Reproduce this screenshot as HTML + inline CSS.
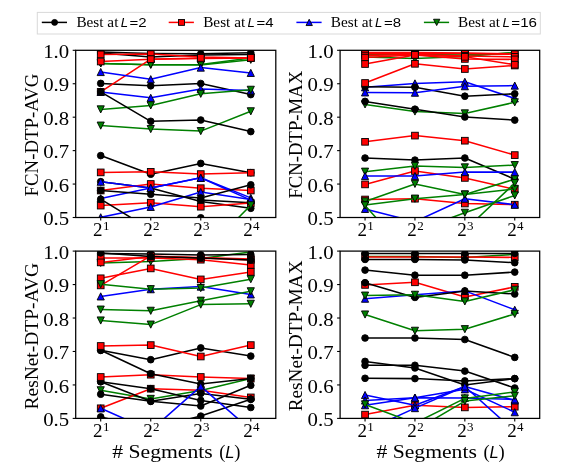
<!DOCTYPE html>
<html><head><meta charset="utf-8"><style>
html,body{margin:0;padding:0;background:#fff;width:575px;height:472px;overflow:hidden}
svg{display:block;will-change:transform}
</style></head><body>
<svg width="575" height="472" viewBox="0 0 575 472">
<defs><clipPath id="cTL"><rect x="75.7" y="50.3" width="200.10" height="167.20"/></clipPath><clipPath id="cTR"><rect x="340.1" y="50.3" width="199.60" height="167.20"/></clipPath><clipPath id="cBL"><rect x="75.7" y="251.1" width="200.10" height="167.30"/></clipPath><clipPath id="cBR"><rect x="340.1" y="251.1" width="199.60" height="167.30"/></clipPath></defs>
<rect x="0" y="0" width="575" height="472" fill="#fff"/>
<g clip-path="url(#cTL)">
<polyline points="100.71,51.90 150.74,53.40 200.76,53.80 250.79,52.80" fill="none" stroke="#000000" stroke-width="1.55" stroke-linejoin="round" stroke-linecap="butt"/>
<circle cx="100.71" cy="51.90" r="3.35" fill="#000000" stroke="#000" stroke-width="0.9"/>
<circle cx="150.74" cy="53.40" r="3.35" fill="#000000" stroke="#000" stroke-width="0.9"/>
<circle cx="200.76" cy="53.80" r="3.35" fill="#000000" stroke="#000" stroke-width="0.9"/>
<circle cx="250.79" cy="52.80" r="3.35" fill="#000000" stroke="#000" stroke-width="0.9"/>
<polyline points="100.71,52.90 150.74,56.90 200.76,55.00 250.79,54.40" fill="none" stroke="#000000" stroke-width="1.55" stroke-linejoin="round" stroke-linecap="butt"/>
<circle cx="100.71" cy="52.90" r="3.35" fill="#000000" stroke="#000" stroke-width="0.9"/>
<circle cx="150.74" cy="56.90" r="3.35" fill="#000000" stroke="#000" stroke-width="0.9"/>
<circle cx="200.76" cy="55.00" r="3.35" fill="#000000" stroke="#000" stroke-width="0.9"/>
<circle cx="250.79" cy="54.40" r="3.35" fill="#000000" stroke="#000" stroke-width="0.9"/>
<polyline points="100.71,155.60 150.74,174.20 200.76,163.40 250.79,172.70" fill="none" stroke="#000000" stroke-width="1.55" stroke-linejoin="round" stroke-linecap="butt"/>
<circle cx="100.71" cy="155.60" r="3.35" fill="#000000" stroke="#000" stroke-width="0.9"/>
<circle cx="150.74" cy="174.20" r="3.35" fill="#000000" stroke="#000" stroke-width="0.9"/>
<circle cx="200.76" cy="163.40" r="3.35" fill="#000000" stroke="#000" stroke-width="0.9"/>
<circle cx="250.79" cy="172.70" r="3.35" fill="#000000" stroke="#000" stroke-width="0.9"/>
<polyline points="100.71,181.70 150.74,187.90 200.76,201.60 250.79,208.30" fill="none" stroke="#000000" stroke-width="1.55" stroke-linejoin="round" stroke-linecap="butt"/>
<circle cx="100.71" cy="181.70" r="3.35" fill="#000000" stroke="#000" stroke-width="0.9"/>
<circle cx="150.74" cy="187.90" r="3.35" fill="#000000" stroke="#000" stroke-width="0.9"/>
<circle cx="200.76" cy="201.60" r="3.35" fill="#000000" stroke="#000" stroke-width="0.9"/>
<circle cx="250.79" cy="208.30" r="3.35" fill="#000000" stroke="#000" stroke-width="0.9"/>
<polyline points="100.71,83.40 150.74,85.80 200.76,83.50 250.79,94.60" fill="none" stroke="#000000" stroke-width="1.55" stroke-linejoin="round" stroke-linecap="butt"/>
<circle cx="100.71" cy="83.40" r="3.35" fill="#000000" stroke="#000" stroke-width="0.9"/>
<circle cx="150.74" cy="85.80" r="3.35" fill="#000000" stroke="#000" stroke-width="0.9"/>
<circle cx="200.76" cy="83.50" r="3.35" fill="#000000" stroke="#000" stroke-width="0.9"/>
<circle cx="250.79" cy="94.60" r="3.35" fill="#000000" stroke="#000" stroke-width="0.9"/>
<polyline points="200.76,199.90 250.79,202.80" fill="none" stroke="#000000" stroke-width="1.55" stroke-linejoin="round" stroke-linecap="butt"/>
<circle cx="200.76" cy="199.90" r="3.35" fill="#000000" stroke="#000" stroke-width="0.9"/>
<circle cx="250.79" cy="202.80" r="3.35" fill="#000000" stroke="#000" stroke-width="0.9"/>
<polyline points="100.71,63.40 150.74,64.70 200.76,64.90 250.79,59.80" fill="none" stroke="#008000" stroke-width="1.55" stroke-linejoin="round" stroke-linecap="butt"/>
<polygon points="100.71,66.98 97.13,59.82 104.30,59.82" fill="#008000" stroke="#000" stroke-width="0.9" stroke-linejoin="miter"/>
<polygon points="150.74,68.28 147.15,61.12 154.32,61.12" fill="#008000" stroke="#000" stroke-width="0.9" stroke-linejoin="miter"/>
<polygon points="200.76,68.48 197.18,61.32 204.35,61.32" fill="#008000" stroke="#000" stroke-width="0.9" stroke-linejoin="miter"/>
<polygon points="250.79,63.38 247.20,56.22 254.37,56.22" fill="#008000" stroke="#000" stroke-width="0.9" stroke-linejoin="miter"/>
<polyline points="100.71,63.40 150.74,64.70 200.76,64.40 250.79,57.90" fill="none" stroke="#008000" stroke-width="1.55" stroke-linejoin="round" stroke-linecap="butt"/>
<polygon points="100.71,66.98 97.13,59.82 104.30,59.82" fill="#008000" stroke="#000" stroke-width="0.9" stroke-linejoin="miter"/>
<polygon points="150.74,68.28 147.15,61.12 154.32,61.12" fill="#008000" stroke="#000" stroke-width="0.9" stroke-linejoin="miter"/>
<polygon points="200.76,67.98 197.18,60.82 204.35,60.82" fill="#008000" stroke="#000" stroke-width="0.9" stroke-linejoin="miter"/>
<polygon points="250.79,61.48 247.20,54.32 254.37,54.32" fill="#008000" stroke="#000" stroke-width="0.9" stroke-linejoin="miter"/>
<polyline points="100.71,125.60 150.74,129.10 200.76,131.10 250.79,111.30" fill="none" stroke="#008000" stroke-width="1.55" stroke-linejoin="round" stroke-linecap="butt"/>
<polygon points="100.71,129.18 97.13,122.02 104.30,122.02" fill="#008000" stroke="#000" stroke-width="0.9" stroke-linejoin="miter"/>
<polygon points="150.74,132.68 147.15,125.52 154.32,125.52" fill="#008000" stroke="#000" stroke-width="0.9" stroke-linejoin="miter"/>
<polygon points="200.76,134.68 197.18,127.52 204.35,127.52" fill="#008000" stroke="#000" stroke-width="0.9" stroke-linejoin="miter"/>
<polygon points="250.79,114.88 247.20,107.72 254.37,107.72" fill="#008000" stroke="#000" stroke-width="0.9" stroke-linejoin="miter"/>
<polyline points="100.71,54.40 150.74,54.10 200.76,56.90 250.79,57.90" fill="none" stroke="#ff0000" stroke-width="1.55" stroke-linejoin="round" stroke-linecap="butt"/>
<rect x="97.36" y="51.05" width="6.70" height="6.70" fill="#ff0000" stroke="#000" stroke-width="0.9"/>
<rect x="147.39" y="50.75" width="6.70" height="6.70" fill="#ff0000" stroke="#000" stroke-width="0.9"/>
<rect x="197.41" y="53.55" width="6.70" height="6.70" fill="#ff0000" stroke="#000" stroke-width="0.9"/>
<rect x="247.44" y="54.55" width="6.70" height="6.70" fill="#ff0000" stroke="#000" stroke-width="0.9"/>
<polyline points="100.71,61.50 150.74,59.20 200.76,58.50 250.79,57.90" fill="none" stroke="#ff0000" stroke-width="1.55" stroke-linejoin="round" stroke-linecap="butt"/>
<rect x="97.36" y="58.15" width="6.70" height="6.70" fill="#ff0000" stroke="#000" stroke-width="0.9"/>
<rect x="147.39" y="55.85" width="6.70" height="6.70" fill="#ff0000" stroke="#000" stroke-width="0.9"/>
<rect x="197.41" y="55.15" width="6.70" height="6.70" fill="#ff0000" stroke="#000" stroke-width="0.9"/>
<rect x="247.44" y="54.55" width="6.70" height="6.70" fill="#ff0000" stroke="#000" stroke-width="0.9"/>
<polyline points="100.71,91.90 150.74,59.20 200.76,57.90 250.79,57.90" fill="none" stroke="#ff0000" stroke-width="1.55" stroke-linejoin="round" stroke-linecap="butt"/>
<rect x="97.36" y="88.55" width="6.70" height="6.70" fill="#ff0000" stroke="#000" stroke-width="0.9"/>
<rect x="147.39" y="55.85" width="6.70" height="6.70" fill="#ff0000" stroke="#000" stroke-width="0.9"/>
<rect x="197.41" y="54.55" width="6.70" height="6.70" fill="#ff0000" stroke="#000" stroke-width="0.9"/>
<rect x="247.44" y="54.55" width="6.70" height="6.70" fill="#ff0000" stroke="#000" stroke-width="0.9"/>
<polyline points="100.71,172.40 150.74,171.80 200.76,174.10 250.79,172.70" fill="none" stroke="#ff0000" stroke-width="1.55" stroke-linejoin="round" stroke-linecap="butt"/>
<rect x="97.36" y="169.05" width="6.70" height="6.70" fill="#ff0000" stroke="#000" stroke-width="0.9"/>
<rect x="147.39" y="168.45" width="6.70" height="6.70" fill="#ff0000" stroke="#000" stroke-width="0.9"/>
<rect x="197.41" y="170.75" width="6.70" height="6.70" fill="#ff0000" stroke="#000" stroke-width="0.9"/>
<rect x="247.44" y="169.35" width="6.70" height="6.70" fill="#ff0000" stroke="#000" stroke-width="0.9"/>
<polyline points="100.71,190.50 150.74,184.00 200.76,188.20 250.79,190.50" fill="none" stroke="#ff0000" stroke-width="1.55" stroke-linejoin="round" stroke-linecap="butt"/>
<rect x="97.36" y="187.15" width="6.70" height="6.70" fill="#ff0000" stroke="#000" stroke-width="0.9"/>
<rect x="147.39" y="180.65" width="6.70" height="6.70" fill="#ff0000" stroke="#000" stroke-width="0.9"/>
<rect x="197.41" y="184.85" width="6.70" height="6.70" fill="#ff0000" stroke="#000" stroke-width="0.9"/>
<rect x="247.44" y="187.15" width="6.70" height="6.70" fill="#ff0000" stroke="#000" stroke-width="0.9"/>
<polyline points="100.71,205.60 150.74,202.70 200.76,206.70 250.79,203.10" fill="none" stroke="#ff0000" stroke-width="1.55" stroke-linejoin="round" stroke-linecap="butt"/>
<rect x="97.36" y="202.25" width="6.70" height="6.70" fill="#ff0000" stroke="#000" stroke-width="0.9"/>
<rect x="147.39" y="199.35" width="6.70" height="6.70" fill="#ff0000" stroke="#000" stroke-width="0.9"/>
<rect x="197.41" y="203.35" width="6.70" height="6.70" fill="#ff0000" stroke="#000" stroke-width="0.9"/>
<rect x="247.44" y="199.75" width="6.70" height="6.70" fill="#ff0000" stroke="#000" stroke-width="0.9"/>
<polyline points="100.71,72.00 150.74,79.20 200.76,67.60 250.79,72.90" fill="none" stroke="#0000ff" stroke-width="1.55" stroke-linejoin="round" stroke-linecap="butt"/>
<polygon points="100.71,68.42 97.13,75.58 104.30,75.58" fill="#0000ff" stroke="#000" stroke-width="0.9" stroke-linejoin="miter"/>
<polygon points="150.74,75.62 147.15,82.78 154.32,82.78" fill="#0000ff" stroke="#000" stroke-width="0.9" stroke-linejoin="miter"/>
<polygon points="200.76,64.02 197.18,71.18 204.35,71.18" fill="#0000ff" stroke="#000" stroke-width="0.9" stroke-linejoin="miter"/>
<polygon points="250.79,69.32 247.20,76.48 254.37,76.48" fill="#0000ff" stroke="#000" stroke-width="0.9" stroke-linejoin="miter"/>
<polyline points="100.71,91.90 150.74,97.80 200.76,89.00 250.79,90.40" fill="none" stroke="#0000ff" stroke-width="1.55" stroke-linejoin="round" stroke-linecap="butt"/>
<polygon points="100.71,88.32 97.13,95.48 104.30,95.48" fill="#0000ff" stroke="#000" stroke-width="0.9" stroke-linejoin="miter"/>
<polygon points="150.74,94.22 147.15,101.38 154.32,101.38" fill="#0000ff" stroke="#000" stroke-width="0.9" stroke-linejoin="miter"/>
<polygon points="200.76,85.42 197.18,92.58 204.35,92.58" fill="#0000ff" stroke="#000" stroke-width="0.9" stroke-linejoin="miter"/>
<polygon points="250.79,86.82 247.20,93.98 254.37,93.98" fill="#0000ff" stroke="#000" stroke-width="0.9" stroke-linejoin="miter"/>
<polyline points="100.71,181.70 150.74,187.90 200.76,177.80 250.79,197.90" fill="none" stroke="#0000ff" stroke-width="1.55" stroke-linejoin="round" stroke-linecap="butt"/>
<polygon points="100.71,178.12 97.13,185.28 104.30,185.28" fill="#0000ff" stroke="#000" stroke-width="0.9" stroke-linejoin="miter"/>
<polygon points="150.74,184.32 147.15,191.48 154.32,191.48" fill="#0000ff" stroke="#000" stroke-width="0.9" stroke-linejoin="miter"/>
<polygon points="200.76,174.22 197.18,181.38 204.35,181.38" fill="#0000ff" stroke="#000" stroke-width="0.9" stroke-linejoin="miter"/>
<polygon points="250.79,194.32 247.20,201.48 254.37,201.48" fill="#0000ff" stroke="#000" stroke-width="0.9" stroke-linejoin="miter"/>
<polyline points="100.71,198.40 150.74,187.90 200.76,177.80 250.79,200.10" fill="none" stroke="#0000ff" stroke-width="1.55" stroke-linejoin="round" stroke-linecap="butt"/>
<polygon points="100.71,194.82 97.13,201.98 104.30,201.98" fill="#0000ff" stroke="#000" stroke-width="0.9" stroke-linejoin="miter"/>
<polygon points="150.74,184.32 147.15,191.48 154.32,191.48" fill="#0000ff" stroke="#000" stroke-width="0.9" stroke-linejoin="miter"/>
<polygon points="200.76,174.22 197.18,181.38 204.35,181.38" fill="#0000ff" stroke="#000" stroke-width="0.9" stroke-linejoin="miter"/>
<polygon points="250.79,196.52 247.20,203.68 254.37,203.68" fill="#0000ff" stroke="#000" stroke-width="0.9" stroke-linejoin="miter"/>
<polyline points="100.71,217.30 150.74,206.90 200.76,192.00 250.79,199.40" fill="none" stroke="#0000ff" stroke-width="1.55" stroke-linejoin="round" stroke-linecap="butt"/>
<polygon points="100.71,213.72 97.13,220.88 104.30,220.88" fill="#0000ff" stroke="#000" stroke-width="0.9" stroke-linejoin="miter"/>
<polygon points="150.74,203.32 147.15,210.48 154.32,210.48" fill="#0000ff" stroke="#000" stroke-width="0.9" stroke-linejoin="miter"/>
<polygon points="200.76,188.42 197.18,195.58 204.35,195.58" fill="#0000ff" stroke="#000" stroke-width="0.9" stroke-linejoin="miter"/>
<polygon points="250.79,195.82 247.20,202.98 254.37,202.98" fill="#0000ff" stroke="#000" stroke-width="0.9" stroke-linejoin="miter"/>
<polyline points="100.71,109.40 150.74,105.40 200.76,93.80 250.79,89.80" fill="none" stroke="#008000" stroke-width="1.55" stroke-linejoin="round" stroke-linecap="butt"/>
<polygon points="100.71,112.98 97.13,105.82 104.30,105.82" fill="#008000" stroke="#000" stroke-width="0.9" stroke-linejoin="miter"/>
<polygon points="150.74,108.98 147.15,101.82 154.32,101.82" fill="#008000" stroke="#000" stroke-width="0.9" stroke-linejoin="miter"/>
<polygon points="200.76,97.38 197.18,90.22 204.35,90.22" fill="#008000" stroke="#000" stroke-width="0.9" stroke-linejoin="miter"/>
<polygon points="250.79,93.38 247.20,86.22 254.37,86.22" fill="#008000" stroke="#000" stroke-width="0.9" stroke-linejoin="miter"/>
<polyline points="100.71,91.90 150.74,121.30 200.76,120.00 250.79,131.60" fill="none" stroke="#000000" stroke-width="1.55" stroke-linejoin="round" stroke-linecap="butt"/>
<circle cx="100.71" cy="91.90" r="3.35" fill="#000000" stroke="#000" stroke-width="0.9"/>
<circle cx="150.74" cy="121.30" r="3.35" fill="#000000" stroke="#000" stroke-width="0.9"/>
<circle cx="200.76" cy="120.00" r="3.35" fill="#000000" stroke="#000" stroke-width="0.9"/>
<circle cx="250.79" cy="131.60" r="3.35" fill="#000000" stroke="#000" stroke-width="0.9"/>
<polyline points="100.71,190.50 150.74,194.20 200.76,197.90 250.79,184.80" fill="none" stroke="#000000" stroke-width="1.55" stroke-linejoin="round" stroke-linecap="butt"/>
<circle cx="100.71" cy="190.50" r="3.35" fill="#000000" stroke="#000" stroke-width="0.9"/>
<circle cx="150.74" cy="194.20" r="3.35" fill="#000000" stroke="#000" stroke-width="0.9"/>
<circle cx="200.76" cy="197.90" r="3.35" fill="#000000" stroke="#000" stroke-width="0.9"/>
<circle cx="250.79" cy="184.80" r="3.35" fill="#000000" stroke="#000" stroke-width="0.9"/>
<polyline points="100.71,199.20 150.74,229.70 200.76,217.80 250.79,234.40" fill="none" stroke="#000000" stroke-width="1.55" stroke-linejoin="round" stroke-linecap="butt"/>
<circle cx="100.71" cy="199.20" r="3.35" fill="#000000" stroke="#000" stroke-width="0.9"/>
<circle cx="150.74" cy="229.70" r="3.35" fill="#000000" stroke="#000" stroke-width="0.9"/>
<circle cx="200.76" cy="217.80" r="3.35" fill="#000000" stroke="#000" stroke-width="0.9"/>
<circle cx="250.79" cy="234.40" r="3.35" fill="#000000" stroke="#000" stroke-width="0.9"/>
<polyline points="150.74,300.40 200.76,255.40 250.79,205.30" fill="none" stroke="#008000" stroke-width="1.55" stroke-linejoin="round" stroke-linecap="butt"/>
<polygon points="150.74,303.98 147.15,296.82 154.32,296.82" fill="#008000" stroke="#000" stroke-width="0.9" stroke-linejoin="miter"/>
<polygon points="200.76,258.98 197.18,251.82 204.35,251.82" fill="#008000" stroke="#000" stroke-width="0.9" stroke-linejoin="miter"/>
<polygon points="250.79,208.88 247.20,201.72 254.37,201.72" fill="#008000" stroke="#000" stroke-width="0.9" stroke-linejoin="miter"/>
</g>
<rect x="75.7" y="50.3" width="200.10" height="167.20" fill="none" stroke="#000" stroke-width="1.25"/>
<line x1="72.70" y1="217.50" x2="75.7" y2="217.50" stroke="#000" stroke-width="1.1"/>
<text x="69.20" y="225.10" text-anchor="end" style="font-family:'Liberation Serif',serif;font-size:19px" textLength="26.0" lengthAdjust="spacingAndGlyphs">0.5</text>
<line x1="72.70" y1="184.06" x2="75.7" y2="184.06" stroke="#000" stroke-width="1.1"/>
<text x="69.20" y="191.66" text-anchor="end" style="font-family:'Liberation Serif',serif;font-size:19px" textLength="26.0" lengthAdjust="spacingAndGlyphs">0.6</text>
<line x1="72.70" y1="150.62" x2="75.7" y2="150.62" stroke="#000" stroke-width="1.1"/>
<text x="69.20" y="158.22" text-anchor="end" style="font-family:'Liberation Serif',serif;font-size:19px" textLength="26.0" lengthAdjust="spacingAndGlyphs">0.7</text>
<line x1="72.70" y1="117.18" x2="75.7" y2="117.18" stroke="#000" stroke-width="1.1"/>
<text x="69.20" y="124.78" text-anchor="end" style="font-family:'Liberation Serif',serif;font-size:19px" textLength="26.0" lengthAdjust="spacingAndGlyphs">0.8</text>
<line x1="72.70" y1="83.74" x2="75.7" y2="83.74" stroke="#000" stroke-width="1.1"/>
<text x="69.20" y="91.34" text-anchor="end" style="font-family:'Liberation Serif',serif;font-size:19px" textLength="26.0" lengthAdjust="spacingAndGlyphs">0.9</text>
<line x1="72.70" y1="50.30" x2="75.7" y2="50.30" stroke="#000" stroke-width="1.1"/>
<text x="69.20" y="57.90" text-anchor="end" style="font-family:'Liberation Serif',serif;font-size:19px" textLength="26.0" lengthAdjust="spacingAndGlyphs">1.0</text>
<line x1="100.71" y1="217.5" x2="100.71" y2="220.50" stroke="#000" stroke-width="1.1"/>
<text x="93.11" y="236.00" style="font-family:'Liberation Serif',serif;font-size:19px">2</text>
<text x="102.91" y="230.40" style="font-family:'Liberation Serif',serif;font-size:13px">1</text>
<line x1="150.74" y1="217.5" x2="150.74" y2="220.50" stroke="#000" stroke-width="1.1"/>
<text x="143.14" y="236.00" style="font-family:'Liberation Serif',serif;font-size:19px">2</text>
<text x="152.94" y="230.40" style="font-family:'Liberation Serif',serif;font-size:13px">2</text>
<line x1="200.76" y1="217.5" x2="200.76" y2="220.50" stroke="#000" stroke-width="1.1"/>
<text x="193.16" y="236.00" style="font-family:'Liberation Serif',serif;font-size:19px">2</text>
<text x="202.96" y="230.40" style="font-family:'Liberation Serif',serif;font-size:13px">3</text>
<line x1="250.79" y1="217.5" x2="250.79" y2="220.50" stroke="#000" stroke-width="1.1"/>
<text x="243.19" y="236.00" style="font-family:'Liberation Serif',serif;font-size:19px">2</text>
<text x="252.99" y="230.40" style="font-family:'Liberation Serif',serif;font-size:13px">4</text>
<text transform="translate(37.70,135.00) rotate(-90)" text-anchor="middle" style="font-family:'Liberation Serif',serif;font-size:18.5px" textLength="122.9" lengthAdjust="spacingAndGlyphs">FCN-DTP-AVG</text>
<g clip-path="url(#cTR)">
<polyline points="365.05,56.90 414.95,58.60 464.85,56.40 514.75,52.40" fill="none" stroke="#008000" stroke-width="1.55" stroke-linejoin="round" stroke-linecap="butt"/>
<polygon points="365.05,60.48 361.47,53.32 368.63,53.32" fill="#008000" stroke="#000" stroke-width="0.9" stroke-linejoin="miter"/>
<polygon points="414.95,62.18 411.37,55.02 418.53,55.02" fill="#008000" stroke="#000" stroke-width="0.9" stroke-linejoin="miter"/>
<polygon points="464.85,59.98 461.27,52.82 468.43,52.82" fill="#008000" stroke="#000" stroke-width="0.9" stroke-linejoin="miter"/>
<polygon points="514.75,55.98 511.17,48.82 518.33,48.82" fill="#008000" stroke="#000" stroke-width="0.9" stroke-linejoin="miter"/>
<polyline points="365.05,54.60 414.95,54.40 464.85,54.90 514.75,53.20" fill="none" stroke="#008000" stroke-width="1.55" stroke-linejoin="round" stroke-linecap="butt"/>
<polygon points="365.05,58.18 361.47,51.02 368.63,51.02" fill="#008000" stroke="#000" stroke-width="0.9" stroke-linejoin="miter"/>
<polygon points="414.95,57.98 411.37,50.82 418.53,50.82" fill="#008000" stroke="#000" stroke-width="0.9" stroke-linejoin="miter"/>
<polygon points="464.85,58.48 461.27,51.32 468.43,51.32" fill="#008000" stroke="#000" stroke-width="0.9" stroke-linejoin="miter"/>
<polygon points="514.75,56.78 511.17,49.62 518.33,49.62" fill="#008000" stroke="#000" stroke-width="0.9" stroke-linejoin="miter"/>
<polyline points="365.05,87.30 414.95,83.40 464.85,81.80 514.75,98.40" fill="none" stroke="#0000ff" stroke-width="1.55" stroke-linejoin="round" stroke-linecap="butt"/>
<polygon points="365.05,83.72 361.47,90.88 368.63,90.88" fill="#0000ff" stroke="#000" stroke-width="0.9" stroke-linejoin="miter"/>
<polygon points="414.95,79.82 411.37,86.98 418.53,86.98" fill="#0000ff" stroke="#000" stroke-width="0.9" stroke-linejoin="miter"/>
<polygon points="464.85,78.22 461.27,85.38 468.43,85.38" fill="#0000ff" stroke="#000" stroke-width="0.9" stroke-linejoin="miter"/>
<polygon points="514.75,94.82 511.17,101.98 518.33,101.98" fill="#0000ff" stroke="#000" stroke-width="0.9" stroke-linejoin="miter"/>
<polyline points="365.05,104.40 414.95,111.50 464.85,113.40 514.75,102.30" fill="none" stroke="#008000" stroke-width="1.55" stroke-linejoin="round" stroke-linecap="butt"/>
<polygon points="365.05,107.98 361.47,100.82 368.63,100.82" fill="#008000" stroke="#000" stroke-width="0.9" stroke-linejoin="miter"/>
<polygon points="414.95,115.08 411.37,107.92 418.53,107.92" fill="#008000" stroke="#000" stroke-width="0.9" stroke-linejoin="miter"/>
<polygon points="464.85,116.98 461.27,109.82 468.43,109.82" fill="#008000" stroke="#000" stroke-width="0.9" stroke-linejoin="miter"/>
<polygon points="514.75,105.88 511.17,98.72 518.33,98.72" fill="#008000" stroke="#000" stroke-width="0.9" stroke-linejoin="miter"/>
<polyline points="365.05,86.80 414.95,87.30 464.85,96.20 514.75,93.80" fill="none" stroke="#000000" stroke-width="1.55" stroke-linejoin="round" stroke-linecap="butt"/>
<circle cx="365.05" cy="86.80" r="3.35" fill="#000000" stroke="#000" stroke-width="0.9"/>
<circle cx="414.95" cy="87.30" r="3.35" fill="#000000" stroke="#000" stroke-width="0.9"/>
<circle cx="464.85" cy="96.20" r="3.35" fill="#000000" stroke="#000" stroke-width="0.9"/>
<circle cx="514.75" cy="93.80" r="3.35" fill="#000000" stroke="#000" stroke-width="0.9"/>
<polyline points="365.05,83.00 414.95,63.80 464.85,69.00 514.75,65.50" fill="none" stroke="#ff0000" stroke-width="1.55" stroke-linejoin="round" stroke-linecap="butt"/>
<rect x="361.70" y="79.65" width="6.70" height="6.70" fill="#ff0000" stroke="#000" stroke-width="0.9"/>
<rect x="411.60" y="60.45" width="6.70" height="6.70" fill="#ff0000" stroke="#000" stroke-width="0.9"/>
<rect x="461.50" y="65.65" width="6.70" height="6.70" fill="#ff0000" stroke="#000" stroke-width="0.9"/>
<rect x="511.40" y="62.15" width="6.70" height="6.70" fill="#ff0000" stroke="#000" stroke-width="0.9"/>
<polyline points="365.05,101.40 414.95,109.20 464.85,117.00 514.75,120.10" fill="none" stroke="#000000" stroke-width="1.55" stroke-linejoin="round" stroke-linecap="butt"/>
<circle cx="365.05" cy="101.40" r="3.35" fill="#000000" stroke="#000" stroke-width="0.9"/>
<circle cx="414.95" cy="109.20" r="3.35" fill="#000000" stroke="#000" stroke-width="0.9"/>
<circle cx="464.85" cy="117.00" r="3.35" fill="#000000" stroke="#000" stroke-width="0.9"/>
<circle cx="514.75" cy="120.10" r="3.35" fill="#000000" stroke="#000" stroke-width="0.9"/>
<polyline points="365.05,158.00 414.95,160.10 464.85,158.00 514.75,179.20" fill="none" stroke="#000000" stroke-width="1.55" stroke-linejoin="round" stroke-linecap="butt"/>
<circle cx="365.05" cy="158.00" r="3.35" fill="#000000" stroke="#000" stroke-width="0.9"/>
<circle cx="414.95" cy="160.10" r="3.35" fill="#000000" stroke="#000" stroke-width="0.9"/>
<circle cx="464.85" cy="158.00" r="3.35" fill="#000000" stroke="#000" stroke-width="0.9"/>
<circle cx="514.75" cy="179.20" r="3.35" fill="#000000" stroke="#000" stroke-width="0.9"/>
<polyline points="365.05,52.60 414.95,52.40 464.85,52.90 514.75,53.90" fill="none" stroke="#ff0000" stroke-width="1.55" stroke-linejoin="round" stroke-linecap="butt"/>
<rect x="361.70" y="49.25" width="6.70" height="6.70" fill="#ff0000" stroke="#000" stroke-width="0.9"/>
<rect x="411.60" y="49.05" width="6.70" height="6.70" fill="#ff0000" stroke="#000" stroke-width="0.9"/>
<rect x="461.50" y="49.55" width="6.70" height="6.70" fill="#ff0000" stroke="#000" stroke-width="0.9"/>
<rect x="511.40" y="50.55" width="6.70" height="6.70" fill="#ff0000" stroke="#000" stroke-width="0.9"/>
<polyline points="365.05,53.80 414.95,53.40 464.85,53.40 514.75,54.20" fill="none" stroke="#ff0000" stroke-width="1.55" stroke-linejoin="round" stroke-linecap="butt"/>
<rect x="361.70" y="50.45" width="6.70" height="6.70" fill="#ff0000" stroke="#000" stroke-width="0.9"/>
<rect x="411.60" y="50.05" width="6.70" height="6.70" fill="#ff0000" stroke="#000" stroke-width="0.9"/>
<rect x="461.50" y="50.05" width="6.70" height="6.70" fill="#ff0000" stroke="#000" stroke-width="0.9"/>
<rect x="511.40" y="50.85" width="6.70" height="6.70" fill="#ff0000" stroke="#000" stroke-width="0.9"/>
<polyline points="365.05,55.60 414.95,54.40 464.85,55.90 514.75,56.90" fill="none" stroke="#ff0000" stroke-width="1.55" stroke-linejoin="round" stroke-linecap="butt"/>
<rect x="361.70" y="52.25" width="6.70" height="6.70" fill="#ff0000" stroke="#000" stroke-width="0.9"/>
<rect x="411.60" y="51.05" width="6.70" height="6.70" fill="#ff0000" stroke="#000" stroke-width="0.9"/>
<rect x="461.50" y="52.55" width="6.70" height="6.70" fill="#ff0000" stroke="#000" stroke-width="0.9"/>
<rect x="511.40" y="53.55" width="6.70" height="6.70" fill="#ff0000" stroke="#000" stroke-width="0.9"/>
<polyline points="365.05,57.60 414.95,55.00 464.85,58.90 514.75,59.40" fill="none" stroke="#ff0000" stroke-width="1.55" stroke-linejoin="round" stroke-linecap="butt"/>
<rect x="361.70" y="54.25" width="6.70" height="6.70" fill="#ff0000" stroke="#000" stroke-width="0.9"/>
<rect x="411.60" y="51.65" width="6.70" height="6.70" fill="#ff0000" stroke="#000" stroke-width="0.9"/>
<rect x="461.50" y="55.55" width="6.70" height="6.70" fill="#ff0000" stroke="#000" stroke-width="0.9"/>
<rect x="511.40" y="56.05" width="6.70" height="6.70" fill="#ff0000" stroke="#000" stroke-width="0.9"/>
<polyline points="365.05,64.00 414.95,54.90 464.85,56.80 514.75,64.70" fill="none" stroke="#ff0000" stroke-width="1.55" stroke-linejoin="round" stroke-linecap="butt"/>
<rect x="361.70" y="60.65" width="6.70" height="6.70" fill="#ff0000" stroke="#000" stroke-width="0.9"/>
<rect x="411.60" y="51.55" width="6.70" height="6.70" fill="#ff0000" stroke="#000" stroke-width="0.9"/>
<rect x="461.50" y="53.45" width="6.70" height="6.70" fill="#ff0000" stroke="#000" stroke-width="0.9"/>
<rect x="511.40" y="61.35" width="6.70" height="6.70" fill="#ff0000" stroke="#000" stroke-width="0.9"/>
<polyline points="365.05,141.80 414.95,135.60 464.85,140.70 514.75,155.10" fill="none" stroke="#ff0000" stroke-width="1.55" stroke-linejoin="round" stroke-linecap="butt"/>
<rect x="361.70" y="138.45" width="6.70" height="6.70" fill="#ff0000" stroke="#000" stroke-width="0.9"/>
<rect x="411.60" y="132.25" width="6.70" height="6.70" fill="#ff0000" stroke="#000" stroke-width="0.9"/>
<rect x="461.50" y="137.35" width="6.70" height="6.70" fill="#ff0000" stroke="#000" stroke-width="0.9"/>
<rect x="511.40" y="151.75" width="6.70" height="6.70" fill="#ff0000" stroke="#000" stroke-width="0.9"/>
<polyline points="365.05,184.40 414.95,171.00 464.85,177.90 514.75,189.40" fill="none" stroke="#ff0000" stroke-width="1.55" stroke-linejoin="round" stroke-linecap="butt"/>
<rect x="361.70" y="181.05" width="6.70" height="6.70" fill="#ff0000" stroke="#000" stroke-width="0.9"/>
<rect x="411.60" y="167.65" width="6.70" height="6.70" fill="#ff0000" stroke="#000" stroke-width="0.9"/>
<rect x="461.50" y="174.55" width="6.70" height="6.70" fill="#ff0000" stroke="#000" stroke-width="0.9"/>
<rect x="511.40" y="186.05" width="6.70" height="6.70" fill="#ff0000" stroke="#000" stroke-width="0.9"/>
<polyline points="365.05,199.50 414.95,198.70 464.85,203.50 514.75,204.70" fill="none" stroke="#ff0000" stroke-width="1.55" stroke-linejoin="round" stroke-linecap="butt"/>
<rect x="361.70" y="196.15" width="6.70" height="6.70" fill="#ff0000" stroke="#000" stroke-width="0.9"/>
<rect x="411.60" y="195.35" width="6.70" height="6.70" fill="#ff0000" stroke="#000" stroke-width="0.9"/>
<rect x="461.50" y="200.15" width="6.70" height="6.70" fill="#ff0000" stroke="#000" stroke-width="0.9"/>
<rect x="511.40" y="201.35" width="6.70" height="6.70" fill="#ff0000" stroke="#000" stroke-width="0.9"/>
<polyline points="365.05,208.90 414.95,221.70 464.85,198.70 514.75,204.70" fill="none" stroke="#0000ff" stroke-width="1.55" stroke-linejoin="round" stroke-linecap="butt"/>
<polygon points="365.05,205.32 361.47,212.48 368.63,212.48" fill="#0000ff" stroke="#000" stroke-width="0.9" stroke-linejoin="miter"/>
<polygon points="414.95,218.12 411.37,225.28 418.53,225.28" fill="#0000ff" stroke="#000" stroke-width="0.9" stroke-linejoin="miter"/>
<polygon points="464.85,195.12 461.27,202.28 468.43,202.28" fill="#0000ff" stroke="#000" stroke-width="0.9" stroke-linejoin="miter"/>
<polygon points="514.75,201.12 511.17,208.28 518.33,208.28" fill="#0000ff" stroke="#000" stroke-width="0.9" stroke-linejoin="miter"/>
<polyline points="365.05,171.70 414.95,165.90 464.85,167.40 514.75,165.10" fill="none" stroke="#008000" stroke-width="1.55" stroke-linejoin="round" stroke-linecap="butt"/>
<polygon points="365.05,175.28 361.47,168.12 368.63,168.12" fill="#008000" stroke="#000" stroke-width="0.9" stroke-linejoin="miter"/>
<polygon points="414.95,169.48 411.37,162.32 418.53,162.32" fill="#008000" stroke="#000" stroke-width="0.9" stroke-linejoin="miter"/>
<polygon points="464.85,170.98 461.27,163.82 468.43,163.82" fill="#008000" stroke="#000" stroke-width="0.9" stroke-linejoin="miter"/>
<polygon points="514.75,168.68 511.17,161.52 518.33,161.52" fill="#008000" stroke="#000" stroke-width="0.9" stroke-linejoin="miter"/>
<polyline points="365.05,201.40 414.95,183.90 464.85,194.50 514.75,188.90" fill="none" stroke="#008000" stroke-width="1.55" stroke-linejoin="round" stroke-linecap="butt"/>
<polygon points="365.05,204.98 361.47,197.82 368.63,197.82" fill="#008000" stroke="#000" stroke-width="0.9" stroke-linejoin="miter"/>
<polygon points="414.95,187.48 411.37,180.32 418.53,180.32" fill="#008000" stroke="#000" stroke-width="0.9" stroke-linejoin="miter"/>
<polygon points="464.85,198.08 461.27,190.92 468.43,190.92" fill="#008000" stroke="#000" stroke-width="0.9" stroke-linejoin="miter"/>
<polygon points="514.75,192.48 511.17,185.32 518.33,185.32" fill="#008000" stroke="#000" stroke-width="0.9" stroke-linejoin="miter"/>
<polyline points="365.05,205.00 414.95,198.70 464.85,194.50 514.75,179.20" fill="none" stroke="#008000" stroke-width="1.55" stroke-linejoin="round" stroke-linecap="butt"/>
<polygon points="365.05,208.58 361.47,201.42 368.63,201.42" fill="#008000" stroke="#000" stroke-width="0.9" stroke-linejoin="miter"/>
<polygon points="414.95,202.28 411.37,195.12 418.53,195.12" fill="#008000" stroke="#000" stroke-width="0.9" stroke-linejoin="miter"/>
<polygon points="464.85,198.08 461.27,190.92 468.43,190.92" fill="#008000" stroke="#000" stroke-width="0.9" stroke-linejoin="miter"/>
<polygon points="514.75,182.78 511.17,175.62 518.33,175.62" fill="#008000" stroke="#000" stroke-width="0.9" stroke-linejoin="miter"/>
<polyline points="365.05,205.40 414.95,261.30 464.85,230.30 514.75,183.10" fill="none" stroke="#008000" stroke-width="1.55" stroke-linejoin="round" stroke-linecap="butt"/>
<polygon points="365.05,208.98 361.47,201.82 368.63,201.82" fill="#008000" stroke="#000" stroke-width="0.9" stroke-linejoin="miter"/>
<polygon points="414.95,264.88 411.37,257.72 418.53,257.72" fill="#008000" stroke="#000" stroke-width="0.9" stroke-linejoin="miter"/>
<polygon points="464.85,233.88 461.27,226.72 468.43,226.72" fill="#008000" stroke="#000" stroke-width="0.9" stroke-linejoin="miter"/>
<polygon points="514.75,186.68 511.17,179.52 518.33,179.52" fill="#008000" stroke="#000" stroke-width="0.9" stroke-linejoin="miter"/>
<polyline points="365.05,240.40 414.95,231.00 464.85,212.80 514.75,195.40" fill="none" stroke="#008000" stroke-width="1.55" stroke-linejoin="round" stroke-linecap="butt"/>
<polygon points="365.05,243.98 361.47,236.82 368.63,236.82" fill="#008000" stroke="#000" stroke-width="0.9" stroke-linejoin="miter"/>
<polygon points="414.95,234.58 411.37,227.42 418.53,227.42" fill="#008000" stroke="#000" stroke-width="0.9" stroke-linejoin="miter"/>
<polygon points="464.85,216.38 461.27,209.22 468.43,209.22" fill="#008000" stroke="#000" stroke-width="0.9" stroke-linejoin="miter"/>
<polygon points="514.75,198.98 511.17,191.82 518.33,191.82" fill="#008000" stroke="#000" stroke-width="0.9" stroke-linejoin="miter"/>
<polyline points="365.05,92.40 414.95,92.70 464.85,86.20 514.75,85.60" fill="none" stroke="#0000ff" stroke-width="1.55" stroke-linejoin="round" stroke-linecap="butt"/>
<polygon points="365.05,88.82 361.47,95.98 368.63,95.98" fill="#0000ff" stroke="#000" stroke-width="0.9" stroke-linejoin="miter"/>
<polygon points="414.95,89.12 411.37,96.28 418.53,96.28" fill="#0000ff" stroke="#000" stroke-width="0.9" stroke-linejoin="miter"/>
<polygon points="464.85,82.62 461.27,89.78 468.43,89.78" fill="#0000ff" stroke="#000" stroke-width="0.9" stroke-linejoin="miter"/>
<polygon points="514.75,82.02 511.17,89.18 518.33,89.18" fill="#0000ff" stroke="#000" stroke-width="0.9" stroke-linejoin="miter"/>
<polyline points="365.05,176.00 414.95,176.00 464.85,172.10 514.75,172.10" fill="none" stroke="#0000ff" stroke-width="1.55" stroke-linejoin="round" stroke-linecap="butt"/>
<polygon points="365.05,172.42 361.47,179.58 368.63,179.58" fill="#0000ff" stroke="#000" stroke-width="0.9" stroke-linejoin="miter"/>
<polygon points="414.95,172.42 411.37,179.58 418.53,179.58" fill="#0000ff" stroke="#000" stroke-width="0.9" stroke-linejoin="miter"/>
<polygon points="464.85,168.52 461.27,175.68 468.43,175.68" fill="#0000ff" stroke="#000" stroke-width="0.9" stroke-linejoin="miter"/>
<polygon points="514.75,168.52 511.17,175.68 518.33,175.68" fill="#0000ff" stroke="#000" stroke-width="0.9" stroke-linejoin="miter"/>
</g>
<rect x="340.1" y="50.3" width="199.60" height="167.20" fill="none" stroke="#000" stroke-width="1.25"/>
<line x1="337.10" y1="217.50" x2="340.1" y2="217.50" stroke="#000" stroke-width="1.1"/>
<text x="333.60" y="225.10" text-anchor="end" style="font-family:'Liberation Serif',serif;font-size:19px" textLength="26.0" lengthAdjust="spacingAndGlyphs">0.5</text>
<line x1="337.10" y1="184.06" x2="340.1" y2="184.06" stroke="#000" stroke-width="1.1"/>
<text x="333.60" y="191.66" text-anchor="end" style="font-family:'Liberation Serif',serif;font-size:19px" textLength="26.0" lengthAdjust="spacingAndGlyphs">0.6</text>
<line x1="337.10" y1="150.62" x2="340.1" y2="150.62" stroke="#000" stroke-width="1.1"/>
<text x="333.60" y="158.22" text-anchor="end" style="font-family:'Liberation Serif',serif;font-size:19px" textLength="26.0" lengthAdjust="spacingAndGlyphs">0.7</text>
<line x1="337.10" y1="117.18" x2="340.1" y2="117.18" stroke="#000" stroke-width="1.1"/>
<text x="333.60" y="124.78" text-anchor="end" style="font-family:'Liberation Serif',serif;font-size:19px" textLength="26.0" lengthAdjust="spacingAndGlyphs">0.8</text>
<line x1="337.10" y1="83.74" x2="340.1" y2="83.74" stroke="#000" stroke-width="1.1"/>
<text x="333.60" y="91.34" text-anchor="end" style="font-family:'Liberation Serif',serif;font-size:19px" textLength="26.0" lengthAdjust="spacingAndGlyphs">0.9</text>
<line x1="337.10" y1="50.30" x2="340.1" y2="50.30" stroke="#000" stroke-width="1.1"/>
<text x="333.60" y="57.90" text-anchor="end" style="font-family:'Liberation Serif',serif;font-size:19px" textLength="26.0" lengthAdjust="spacingAndGlyphs">1.0</text>
<line x1="365.05" y1="217.5" x2="365.05" y2="220.50" stroke="#000" stroke-width="1.1"/>
<text x="357.45" y="236.00" style="font-family:'Liberation Serif',serif;font-size:19px">2</text>
<text x="367.25" y="230.40" style="font-family:'Liberation Serif',serif;font-size:13px">1</text>
<line x1="414.95" y1="217.5" x2="414.95" y2="220.50" stroke="#000" stroke-width="1.1"/>
<text x="407.35" y="236.00" style="font-family:'Liberation Serif',serif;font-size:19px">2</text>
<text x="417.15" y="230.40" style="font-family:'Liberation Serif',serif;font-size:13px">2</text>
<line x1="464.85" y1="217.5" x2="464.85" y2="220.50" stroke="#000" stroke-width="1.1"/>
<text x="457.25" y="236.00" style="font-family:'Liberation Serif',serif;font-size:19px">2</text>
<text x="467.05" y="230.40" style="font-family:'Liberation Serif',serif;font-size:13px">3</text>
<line x1="514.75" y1="217.5" x2="514.75" y2="220.50" stroke="#000" stroke-width="1.1"/>
<text x="507.15" y="236.00" style="font-family:'Liberation Serif',serif;font-size:19px">2</text>
<text x="516.95" y="230.40" style="font-family:'Liberation Serif',serif;font-size:13px">4</text>
<text transform="translate(302.10,134.70) rotate(-90)" text-anchor="middle" style="font-family:'Liberation Serif',serif;font-size:18.5px" textLength="127.8" lengthAdjust="spacingAndGlyphs">FCN-DTP-MAX</text>
<g clip-path="url(#cBL)">
<polyline points="100.71,262.90 150.74,261.40 200.76,258.40 250.79,251.90" fill="none" stroke="#008000" stroke-width="1.55" stroke-linejoin="round" stroke-linecap="butt"/>
<polygon points="100.71,266.48 97.13,259.32 104.30,259.32" fill="#008000" stroke="#000" stroke-width="0.9" stroke-linejoin="miter"/>
<polygon points="150.74,264.98 147.15,257.82 154.32,257.82" fill="#008000" stroke="#000" stroke-width="0.9" stroke-linejoin="miter"/>
<polygon points="200.76,261.98 197.18,254.82 204.35,254.82" fill="#008000" stroke="#000" stroke-width="0.9" stroke-linejoin="miter"/>
<polygon points="250.79,255.48 247.20,248.32 254.37,248.32" fill="#008000" stroke="#000" stroke-width="0.9" stroke-linejoin="miter"/>
<polyline points="100.71,253.50 150.74,253.90 200.76,254.90 250.79,254.40" fill="none" stroke="#000000" stroke-width="1.55" stroke-linejoin="round" stroke-linecap="butt"/>
<circle cx="100.71" cy="253.50" r="3.35" fill="#000000" stroke="#000" stroke-width="0.9"/>
<circle cx="150.74" cy="253.90" r="3.35" fill="#000000" stroke="#000" stroke-width="0.9"/>
<circle cx="200.76" cy="254.90" r="3.35" fill="#000000" stroke="#000" stroke-width="0.9"/>
<circle cx="250.79" cy="254.40" r="3.35" fill="#000000" stroke="#000" stroke-width="0.9"/>
<polyline points="100.71,257.90 150.74,257.90 200.76,259.70 250.79,264.90" fill="none" stroke="#ff0000" stroke-width="1.55" stroke-linejoin="round" stroke-linecap="butt"/>
<rect x="97.36" y="254.55" width="6.70" height="6.70" fill="#ff0000" stroke="#000" stroke-width="0.9"/>
<rect x="147.39" y="254.55" width="6.70" height="6.70" fill="#ff0000" stroke="#000" stroke-width="0.9"/>
<rect x="197.41" y="256.35" width="6.70" height="6.70" fill="#ff0000" stroke="#000" stroke-width="0.9"/>
<rect x="247.44" y="261.55" width="6.70" height="6.70" fill="#ff0000" stroke="#000" stroke-width="0.9"/>
<polyline points="100.71,262.40 150.74,256.40 200.76,257.40 250.79,258.90" fill="none" stroke="#ff0000" stroke-width="1.55" stroke-linejoin="round" stroke-linecap="butt"/>
<rect x="97.36" y="259.05" width="6.70" height="6.70" fill="#ff0000" stroke="#000" stroke-width="0.9"/>
<rect x="147.39" y="253.05" width="6.70" height="6.70" fill="#ff0000" stroke="#000" stroke-width="0.9"/>
<rect x="197.41" y="254.05" width="6.70" height="6.70" fill="#ff0000" stroke="#000" stroke-width="0.9"/>
<rect x="247.44" y="255.55" width="6.70" height="6.70" fill="#ff0000" stroke="#000" stroke-width="0.9"/>
<polyline points="100.71,285.40 150.74,255.90 200.76,257.90 250.79,259.90" fill="none" stroke="#ff0000" stroke-width="1.55" stroke-linejoin="round" stroke-linecap="butt"/>
<rect x="97.36" y="282.05" width="6.70" height="6.70" fill="#ff0000" stroke="#000" stroke-width="0.9"/>
<rect x="147.39" y="252.55" width="6.70" height="6.70" fill="#ff0000" stroke="#000" stroke-width="0.9"/>
<rect x="197.41" y="254.55" width="6.70" height="6.70" fill="#ff0000" stroke="#000" stroke-width="0.9"/>
<rect x="247.44" y="256.55" width="6.70" height="6.70" fill="#ff0000" stroke="#000" stroke-width="0.9"/>
<polyline points="100.71,252.90 150.74,256.40 200.76,257.90 250.79,259.90" fill="none" stroke="#000000" stroke-width="1.55" stroke-linejoin="round" stroke-linecap="butt"/>
<circle cx="100.71" cy="252.90" r="3.35" fill="#000000" stroke="#000" stroke-width="0.9"/>
<circle cx="150.74" cy="256.40" r="3.35" fill="#000000" stroke="#000" stroke-width="0.9"/>
<circle cx="200.76" cy="257.90" r="3.35" fill="#000000" stroke="#000" stroke-width="0.9"/>
<circle cx="250.79" cy="259.90" r="3.35" fill="#000000" stroke="#000" stroke-width="0.9"/>
<polyline points="100.71,278.30 150.74,268.40 200.76,279.40 250.79,271.90" fill="none" stroke="#ff0000" stroke-width="1.55" stroke-linejoin="round" stroke-linecap="butt"/>
<rect x="97.36" y="274.95" width="6.70" height="6.70" fill="#ff0000" stroke="#000" stroke-width="0.9"/>
<rect x="147.39" y="265.05" width="6.70" height="6.70" fill="#ff0000" stroke="#000" stroke-width="0.9"/>
<rect x="197.41" y="276.05" width="6.70" height="6.70" fill="#ff0000" stroke="#000" stroke-width="0.9"/>
<rect x="247.44" y="268.55" width="6.70" height="6.70" fill="#ff0000" stroke="#000" stroke-width="0.9"/>
<polyline points="100.71,296.40 150.74,289.20 200.76,286.60 250.79,294.40" fill="none" stroke="#0000ff" stroke-width="1.55" stroke-linejoin="round" stroke-linecap="butt"/>
<polygon points="100.71,292.82 97.13,299.98 104.30,299.98" fill="#0000ff" stroke="#000" stroke-width="0.9" stroke-linejoin="miter"/>
<polygon points="150.74,285.62 147.15,292.78 154.32,292.78" fill="#0000ff" stroke="#000" stroke-width="0.9" stroke-linejoin="miter"/>
<polygon points="200.76,283.02 197.18,290.18 204.35,290.18" fill="#0000ff" stroke="#000" stroke-width="0.9" stroke-linejoin="miter"/>
<polygon points="250.79,290.82 247.20,297.98 254.37,297.98" fill="#0000ff" stroke="#000" stroke-width="0.9" stroke-linejoin="miter"/>
<polyline points="100.71,284.20 150.74,289.20 200.76,288.10 250.79,279.20" fill="none" stroke="#008000" stroke-width="1.55" stroke-linejoin="round" stroke-linecap="butt"/>
<polygon points="100.71,287.78 97.13,280.62 104.30,280.62" fill="#008000" stroke="#000" stroke-width="0.9" stroke-linejoin="miter"/>
<polygon points="150.74,292.78 147.15,285.62 154.32,285.62" fill="#008000" stroke="#000" stroke-width="0.9" stroke-linejoin="miter"/>
<polygon points="200.76,291.68 197.18,284.52 204.35,284.52" fill="#008000" stroke="#000" stroke-width="0.9" stroke-linejoin="miter"/>
<polygon points="250.79,282.78 247.20,275.62 254.37,275.62" fill="#008000" stroke="#000" stroke-width="0.9" stroke-linejoin="miter"/>
<polyline points="100.71,309.60 150.74,310.80 200.76,300.70 250.79,291.30" fill="none" stroke="#008000" stroke-width="1.55" stroke-linejoin="round" stroke-linecap="butt"/>
<polygon points="100.71,313.18 97.13,306.02 104.30,306.02" fill="#008000" stroke="#000" stroke-width="0.9" stroke-linejoin="miter"/>
<polygon points="150.74,314.38 147.15,307.22 154.32,307.22" fill="#008000" stroke="#000" stroke-width="0.9" stroke-linejoin="miter"/>
<polygon points="200.76,304.28 197.18,297.12 204.35,297.12" fill="#008000" stroke="#000" stroke-width="0.9" stroke-linejoin="miter"/>
<polygon points="250.79,294.88 247.20,287.72 254.37,287.72" fill="#008000" stroke="#000" stroke-width="0.9" stroke-linejoin="miter"/>
<polyline points="100.71,320.50 150.74,324.60 200.76,304.60 250.79,303.80" fill="none" stroke="#008000" stroke-width="1.55" stroke-linejoin="round" stroke-linecap="butt"/>
<polygon points="100.71,324.08 97.13,316.92 104.30,316.92" fill="#008000" stroke="#000" stroke-width="0.9" stroke-linejoin="miter"/>
<polygon points="150.74,328.18 147.15,321.02 154.32,321.02" fill="#008000" stroke="#000" stroke-width="0.9" stroke-linejoin="miter"/>
<polygon points="200.76,308.18 197.18,301.02 204.35,301.02" fill="#008000" stroke="#000" stroke-width="0.9" stroke-linejoin="miter"/>
<polygon points="250.79,307.38 247.20,300.22 254.37,300.22" fill="#008000" stroke="#000" stroke-width="0.9" stroke-linejoin="miter"/>
<polyline points="100.71,390.30 150.74,398.90 200.76,390.40 250.79,378.60" fill="none" stroke="#008000" stroke-width="1.55" stroke-linejoin="round" stroke-linecap="butt"/>
<polygon points="100.71,393.88 97.13,386.72 104.30,386.72" fill="#008000" stroke="#000" stroke-width="0.9" stroke-linejoin="miter"/>
<polygon points="150.74,402.48 147.15,395.32 154.32,395.32" fill="#008000" stroke="#000" stroke-width="0.9" stroke-linejoin="miter"/>
<polygon points="200.76,393.98 197.18,386.82 204.35,386.82" fill="#008000" stroke="#000" stroke-width="0.9" stroke-linejoin="miter"/>
<polygon points="250.79,382.18 247.20,375.02 254.37,375.02" fill="#008000" stroke="#000" stroke-width="0.9" stroke-linejoin="miter"/>
<polyline points="100.71,408.30 150.74,388.70 200.76,390.30 250.79,397.40" fill="none" stroke="#ff0000" stroke-width="1.55" stroke-linejoin="round" stroke-linecap="butt"/>
<rect x="97.36" y="404.95" width="6.70" height="6.70" fill="#ff0000" stroke="#000" stroke-width="0.9"/>
<rect x="147.39" y="385.35" width="6.70" height="6.70" fill="#ff0000" stroke="#000" stroke-width="0.9"/>
<rect x="197.41" y="386.95" width="6.70" height="6.70" fill="#ff0000" stroke="#000" stroke-width="0.9"/>
<rect x="247.44" y="394.05" width="6.70" height="6.70" fill="#ff0000" stroke="#000" stroke-width="0.9"/>
<polyline points="100.71,381.70 150.74,388.70 200.76,400.40 250.79,407.50" fill="none" stroke="#000000" stroke-width="1.55" stroke-linejoin="round" stroke-linecap="butt"/>
<circle cx="100.71" cy="381.70" r="3.35" fill="#000000" stroke="#000" stroke-width="0.9"/>
<circle cx="150.74" cy="388.70" r="3.35" fill="#000000" stroke="#000" stroke-width="0.9"/>
<circle cx="200.76" cy="400.40" r="3.35" fill="#000000" stroke="#000" stroke-width="0.9"/>
<circle cx="250.79" cy="407.50" r="3.35" fill="#000000" stroke="#000" stroke-width="0.9"/>
<polyline points="100.71,381.70 150.74,401.30 200.76,406.00 250.79,385.30" fill="none" stroke="#000000" stroke-width="1.55" stroke-linejoin="round" stroke-linecap="butt"/>
<circle cx="100.71" cy="381.70" r="3.35" fill="#000000" stroke="#000" stroke-width="0.9"/>
<circle cx="150.74" cy="401.30" r="3.35" fill="#000000" stroke="#000" stroke-width="0.9"/>
<circle cx="200.76" cy="406.00" r="3.35" fill="#000000" stroke="#000" stroke-width="0.9"/>
<circle cx="250.79" cy="385.30" r="3.35" fill="#000000" stroke="#000" stroke-width="0.9"/>
<polyline points="100.71,377.00 150.74,374.70 200.76,377.00 250.79,378.60" fill="none" stroke="#ff0000" stroke-width="1.55" stroke-linejoin="round" stroke-linecap="butt"/>
<rect x="97.36" y="373.65" width="6.70" height="6.70" fill="#ff0000" stroke="#000" stroke-width="0.9"/>
<rect x="147.39" y="371.35" width="6.70" height="6.70" fill="#ff0000" stroke="#000" stroke-width="0.9"/>
<rect x="197.41" y="373.65" width="6.70" height="6.70" fill="#ff0000" stroke="#000" stroke-width="0.9"/>
<rect x="247.44" y="375.25" width="6.70" height="6.70" fill="#ff0000" stroke="#000" stroke-width="0.9"/>
<polyline points="100.71,350.30 150.74,359.70 200.76,347.90 250.79,356.10" fill="none" stroke="#000000" stroke-width="1.55" stroke-linejoin="round" stroke-linecap="butt"/>
<circle cx="100.71" cy="350.30" r="3.35" fill="#000000" stroke="#000" stroke-width="0.9"/>
<circle cx="150.74" cy="359.70" r="3.35" fill="#000000" stroke="#000" stroke-width="0.9"/>
<circle cx="200.76" cy="347.90" r="3.35" fill="#000000" stroke="#000" stroke-width="0.9"/>
<circle cx="250.79" cy="356.10" r="3.35" fill="#000000" stroke="#000" stroke-width="0.9"/>
<polyline points="100.71,350.30 150.74,373.70 200.76,384.00 250.79,378.60" fill="none" stroke="#000000" stroke-width="1.55" stroke-linejoin="round" stroke-linecap="butt"/>
<circle cx="100.71" cy="350.30" r="3.35" fill="#000000" stroke="#000" stroke-width="0.9"/>
<circle cx="150.74" cy="373.70" r="3.35" fill="#000000" stroke="#000" stroke-width="0.9"/>
<circle cx="200.76" cy="384.00" r="3.35" fill="#000000" stroke="#000" stroke-width="0.9"/>
<circle cx="250.79" cy="378.60" r="3.35" fill="#000000" stroke="#000" stroke-width="0.9"/>
<polyline points="100.71,346.00 150.74,345.10 200.76,356.50 250.79,345.10" fill="none" stroke="#ff0000" stroke-width="1.55" stroke-linejoin="round" stroke-linecap="butt"/>
<rect x="97.36" y="342.65" width="6.70" height="6.70" fill="#ff0000" stroke="#000" stroke-width="0.9"/>
<rect x="147.39" y="341.75" width="6.70" height="6.70" fill="#ff0000" stroke="#000" stroke-width="0.9"/>
<rect x="197.41" y="353.15" width="6.70" height="6.70" fill="#ff0000" stroke="#000" stroke-width="0.9"/>
<rect x="247.44" y="341.75" width="6.70" height="6.70" fill="#ff0000" stroke="#000" stroke-width="0.9"/>
<polyline points="100.71,394.20 150.74,401.30 200.76,393.40 250.79,399.20" fill="none" stroke="#000000" stroke-width="1.55" stroke-linejoin="round" stroke-linecap="butt"/>
<circle cx="100.71" cy="394.20" r="3.35" fill="#000000" stroke="#000" stroke-width="0.9"/>
<circle cx="150.74" cy="401.30" r="3.35" fill="#000000" stroke="#000" stroke-width="0.9"/>
<circle cx="200.76" cy="393.40" r="3.35" fill="#000000" stroke="#000" stroke-width="0.9"/>
<circle cx="250.79" cy="399.20" r="3.35" fill="#000000" stroke="#000" stroke-width="0.9"/>
<polyline points="100.71,416.90 150.74,428.60 200.76,416.10 250.79,399.20" fill="none" stroke="#000000" stroke-width="1.55" stroke-linejoin="round" stroke-linecap="butt"/>
<circle cx="100.71" cy="416.90" r="3.35" fill="#000000" stroke="#000" stroke-width="0.9"/>
<circle cx="150.74" cy="428.60" r="3.35" fill="#000000" stroke="#000" stroke-width="0.9"/>
<circle cx="200.76" cy="416.10" r="3.35" fill="#000000" stroke="#000" stroke-width="0.9"/>
<circle cx="250.79" cy="399.20" r="3.35" fill="#000000" stroke="#000" stroke-width="0.9"/>
<polyline points="100.71,408.30 150.74,430.40 200.76,386.40 250.79,429.90" fill="none" stroke="#0000ff" stroke-width="1.55" stroke-linejoin="round" stroke-linecap="butt"/>
<polygon points="100.71,404.72 97.13,411.88 104.30,411.88" fill="#0000ff" stroke="#000" stroke-width="0.9" stroke-linejoin="miter"/>
<polygon points="150.74,426.82 147.15,433.98 154.32,433.98" fill="#0000ff" stroke="#000" stroke-width="0.9" stroke-linejoin="miter"/>
<polygon points="200.76,382.82 197.18,389.98 204.35,389.98" fill="#0000ff" stroke="#000" stroke-width="0.9" stroke-linejoin="miter"/>
<polygon points="250.79,426.32 247.20,433.48 254.37,433.48" fill="#0000ff" stroke="#000" stroke-width="0.9" stroke-linejoin="miter"/>
</g>
<rect x="75.7" y="251.1" width="200.10" height="167.30" fill="none" stroke="#000" stroke-width="1.25"/>
<line x1="72.70" y1="418.40" x2="75.7" y2="418.40" stroke="#000" stroke-width="1.1"/>
<text x="69.20" y="426.00" text-anchor="end" style="font-family:'Liberation Serif',serif;font-size:19px" textLength="26.0" lengthAdjust="spacingAndGlyphs">0.5</text>
<line x1="72.70" y1="384.94" x2="75.7" y2="384.94" stroke="#000" stroke-width="1.1"/>
<text x="69.20" y="392.54" text-anchor="end" style="font-family:'Liberation Serif',serif;font-size:19px" textLength="26.0" lengthAdjust="spacingAndGlyphs">0.6</text>
<line x1="72.70" y1="351.48" x2="75.7" y2="351.48" stroke="#000" stroke-width="1.1"/>
<text x="69.20" y="359.08" text-anchor="end" style="font-family:'Liberation Serif',serif;font-size:19px" textLength="26.0" lengthAdjust="spacingAndGlyphs">0.7</text>
<line x1="72.70" y1="318.02" x2="75.7" y2="318.02" stroke="#000" stroke-width="1.1"/>
<text x="69.20" y="325.62" text-anchor="end" style="font-family:'Liberation Serif',serif;font-size:19px" textLength="26.0" lengthAdjust="spacingAndGlyphs">0.8</text>
<line x1="72.70" y1="284.56" x2="75.7" y2="284.56" stroke="#000" stroke-width="1.1"/>
<text x="69.20" y="292.16" text-anchor="end" style="font-family:'Liberation Serif',serif;font-size:19px" textLength="26.0" lengthAdjust="spacingAndGlyphs">0.9</text>
<line x1="72.70" y1="251.10" x2="75.7" y2="251.10" stroke="#000" stroke-width="1.1"/>
<text x="69.20" y="258.70" text-anchor="end" style="font-family:'Liberation Serif',serif;font-size:19px" textLength="26.0" lengthAdjust="spacingAndGlyphs">1.0</text>
<line x1="100.71" y1="418.4" x2="100.71" y2="421.40" stroke="#000" stroke-width="1.1"/>
<text x="93.11" y="436.90" style="font-family:'Liberation Serif',serif;font-size:19px">2</text>
<text x="102.91" y="431.30" style="font-family:'Liberation Serif',serif;font-size:13px">1</text>
<line x1="150.74" y1="418.4" x2="150.74" y2="421.40" stroke="#000" stroke-width="1.1"/>
<text x="143.14" y="436.90" style="font-family:'Liberation Serif',serif;font-size:19px">2</text>
<text x="152.94" y="431.30" style="font-family:'Liberation Serif',serif;font-size:13px">2</text>
<line x1="200.76" y1="418.4" x2="200.76" y2="421.40" stroke="#000" stroke-width="1.1"/>
<text x="193.16" y="436.90" style="font-family:'Liberation Serif',serif;font-size:19px">2</text>
<text x="202.96" y="431.30" style="font-family:'Liberation Serif',serif;font-size:13px">3</text>
<line x1="250.79" y1="418.4" x2="250.79" y2="421.40" stroke="#000" stroke-width="1.1"/>
<text x="243.19" y="436.90" style="font-family:'Liberation Serif',serif;font-size:19px">2</text>
<text x="252.99" y="431.30" style="font-family:'Liberation Serif',serif;font-size:13px">4</text>
<text transform="translate(37.70,336.20) rotate(-90)" text-anchor="middle" style="font-family:'Liberation Serif',serif;font-size:18.5px" textLength="146.5" lengthAdjust="spacingAndGlyphs">ResNet-DTP-AVG</text>
<text x="112.25" y="458.2" style="font-family:'Liberation Serif',serif;font-size:18.5px" textLength="100.5" lengthAdjust="spacingAndGlyphs"># Segments</text>
<text x="219.35" y="458.2" style="font-family:'Liberation Serif',serif;font-size:18.5px">(</text>
<text x="225.35" y="458.0" style="font-family:'Liberation Sans',sans-serif;font-size:16.5px;font-style:italic">L</text>
<text x="234.35" y="458.2" style="font-family:'Liberation Serif',serif;font-size:18.5px">)</text>
<g clip-path="url(#cBR)">
<polyline points="365.05,256.40 414.95,256.40 464.85,257.40 514.75,254.40" fill="none" stroke="#008000" stroke-width="1.55" stroke-linejoin="round" stroke-linecap="butt"/>
<polygon points="365.05,259.98 361.47,252.82 368.63,252.82" fill="#008000" stroke="#000" stroke-width="0.9" stroke-linejoin="miter"/>
<polygon points="414.95,259.98 411.37,252.82 418.53,252.82" fill="#008000" stroke="#000" stroke-width="0.9" stroke-linejoin="miter"/>
<polygon points="464.85,260.98 461.27,253.82 468.43,253.82" fill="#008000" stroke="#000" stroke-width="0.9" stroke-linejoin="miter"/>
<polygon points="514.75,257.98 511.17,250.82 518.33,250.82" fill="#008000" stroke="#000" stroke-width="0.9" stroke-linejoin="miter"/>
<polyline points="365.05,256.90 414.95,256.90 464.85,256.90 514.75,257.40" fill="none" stroke="#ff0000" stroke-width="1.55" stroke-linejoin="round" stroke-linecap="butt"/>
<rect x="361.70" y="253.55" width="6.70" height="6.70" fill="#ff0000" stroke="#000" stroke-width="0.9"/>
<rect x="411.60" y="253.55" width="6.70" height="6.70" fill="#ff0000" stroke="#000" stroke-width="0.9"/>
<rect x="461.50" y="253.55" width="6.70" height="6.70" fill="#ff0000" stroke="#000" stroke-width="0.9"/>
<rect x="511.40" y="254.05" width="6.70" height="6.70" fill="#ff0000" stroke="#000" stroke-width="0.9"/>
<polyline points="365.05,253.40 414.95,253.40 464.85,253.40 514.75,253.40" fill="none" stroke="#000000" stroke-width="1.55" stroke-linejoin="round" stroke-linecap="butt"/>
<circle cx="365.05" cy="253.40" r="3.35" fill="#000000" stroke="#000" stroke-width="0.9"/>
<circle cx="414.95" cy="253.40" r="3.35" fill="#000000" stroke="#000" stroke-width="0.9"/>
<circle cx="464.85" cy="253.40" r="3.35" fill="#000000" stroke="#000" stroke-width="0.9"/>
<circle cx="514.75" cy="253.40" r="3.35" fill="#000000" stroke="#000" stroke-width="0.9"/>
<polyline points="365.05,259.40 414.95,259.40 464.85,259.90 514.75,262.70" fill="none" stroke="#000000" stroke-width="1.55" stroke-linejoin="round" stroke-linecap="butt"/>
<circle cx="365.05" cy="259.40" r="3.35" fill="#000000" stroke="#000" stroke-width="0.9"/>
<circle cx="414.95" cy="259.40" r="3.35" fill="#000000" stroke="#000" stroke-width="0.9"/>
<circle cx="464.85" cy="259.90" r="3.35" fill="#000000" stroke="#000" stroke-width="0.9"/>
<circle cx="514.75" cy="262.70" r="3.35" fill="#000000" stroke="#000" stroke-width="0.9"/>
<polyline points="365.05,270.10 414.95,275.20 464.85,275.20 514.75,272.10" fill="none" stroke="#000000" stroke-width="1.55" stroke-linejoin="round" stroke-linecap="butt"/>
<circle cx="365.05" cy="270.10" r="3.35" fill="#000000" stroke="#000" stroke-width="0.9"/>
<circle cx="414.95" cy="275.20" r="3.35" fill="#000000" stroke="#000" stroke-width="0.9"/>
<circle cx="464.85" cy="275.20" r="3.35" fill="#000000" stroke="#000" stroke-width="0.9"/>
<circle cx="514.75" cy="272.10" r="3.35" fill="#000000" stroke="#000" stroke-width="0.9"/>
<polyline points="365.05,284.90 414.95,282.30 464.85,297.10 514.75,286.90" fill="none" stroke="#ff0000" stroke-width="1.55" stroke-linejoin="round" stroke-linecap="butt"/>
<rect x="361.70" y="281.55" width="6.70" height="6.70" fill="#ff0000" stroke="#000" stroke-width="0.9"/>
<rect x="411.60" y="278.95" width="6.70" height="6.70" fill="#ff0000" stroke="#000" stroke-width="0.9"/>
<rect x="461.50" y="293.75" width="6.70" height="6.70" fill="#ff0000" stroke="#000" stroke-width="0.9"/>
<rect x="511.40" y="283.55" width="6.70" height="6.70" fill="#ff0000" stroke="#000" stroke-width="0.9"/>
<polyline points="365.05,298.70 414.95,294.80 464.85,290.90 514.75,309.80" fill="none" stroke="#0000ff" stroke-width="1.55" stroke-linejoin="round" stroke-linecap="butt"/>
<polygon points="365.05,295.12 361.47,302.28 368.63,302.28" fill="#0000ff" stroke="#000" stroke-width="0.9" stroke-linejoin="miter"/>
<polygon points="414.95,291.22 411.37,298.38 418.53,298.38" fill="#0000ff" stroke="#000" stroke-width="0.9" stroke-linejoin="miter"/>
<polygon points="464.85,287.32 461.27,294.48 468.43,294.48" fill="#0000ff" stroke="#000" stroke-width="0.9" stroke-linejoin="miter"/>
<polygon points="514.75,306.22 511.17,313.38 518.33,313.38" fill="#0000ff" stroke="#000" stroke-width="0.9" stroke-linejoin="miter"/>
<polyline points="365.05,282.70 414.95,297.40 464.85,290.90 514.75,294.00" fill="none" stroke="#000000" stroke-width="1.55" stroke-linejoin="round" stroke-linecap="butt"/>
<circle cx="365.05" cy="282.70" r="3.35" fill="#000000" stroke="#000" stroke-width="0.9"/>
<circle cx="414.95" cy="297.40" r="3.35" fill="#000000" stroke="#000" stroke-width="0.9"/>
<circle cx="464.85" cy="290.90" r="3.35" fill="#000000" stroke="#000" stroke-width="0.9"/>
<circle cx="514.75" cy="294.00" r="3.35" fill="#000000" stroke="#000" stroke-width="0.9"/>
<polyline points="365.05,295.60 414.95,294.80 464.85,301.40 514.75,289.80" fill="none" stroke="#008000" stroke-width="1.55" stroke-linejoin="round" stroke-linecap="butt"/>
<polygon points="365.05,299.18 361.47,292.02 368.63,292.02" fill="#008000" stroke="#000" stroke-width="0.9" stroke-linejoin="miter"/>
<polygon points="414.95,298.38 411.37,291.22 418.53,291.22" fill="#008000" stroke="#000" stroke-width="0.9" stroke-linejoin="miter"/>
<polygon points="464.85,304.98 461.27,297.82 468.43,297.82" fill="#008000" stroke="#000" stroke-width="0.9" stroke-linejoin="miter"/>
<polygon points="514.75,293.38 511.17,286.22 518.33,286.22" fill="#008000" stroke="#000" stroke-width="0.9" stroke-linejoin="miter"/>
<polyline points="365.05,314.50 414.95,330.80 464.85,329.20 514.75,313.90" fill="none" stroke="#008000" stroke-width="1.55" stroke-linejoin="round" stroke-linecap="butt"/>
<polygon points="365.05,318.08 361.47,310.92 368.63,310.92" fill="#008000" stroke="#000" stroke-width="0.9" stroke-linejoin="miter"/>
<polygon points="414.95,334.38 411.37,327.22 418.53,327.22" fill="#008000" stroke="#000" stroke-width="0.9" stroke-linejoin="miter"/>
<polygon points="464.85,332.78 461.27,325.62 468.43,325.62" fill="#008000" stroke="#000" stroke-width="0.9" stroke-linejoin="miter"/>
<polygon points="514.75,317.48 511.17,310.32 518.33,310.32" fill="#008000" stroke="#000" stroke-width="0.9" stroke-linejoin="miter"/>
<polyline points="365.05,338.00 414.95,338.00 464.85,339.50 514.75,357.40" fill="none" stroke="#000000" stroke-width="1.55" stroke-linejoin="round" stroke-linecap="butt"/>
<circle cx="365.05" cy="338.00" r="3.35" fill="#000000" stroke="#000" stroke-width="0.9"/>
<circle cx="414.95" cy="338.00" r="3.35" fill="#000000" stroke="#000" stroke-width="0.9"/>
<circle cx="464.85" cy="339.50" r="3.35" fill="#000000" stroke="#000" stroke-width="0.9"/>
<circle cx="514.75" cy="357.40" r="3.35" fill="#000000" stroke="#000" stroke-width="0.9"/>
<polyline points="365.05,361.40 414.95,367.90 464.85,384.90 514.75,378.60" fill="none" stroke="#000000" stroke-width="1.55" stroke-linejoin="round" stroke-linecap="butt"/>
<circle cx="365.05" cy="361.40" r="3.35" fill="#000000" stroke="#000" stroke-width="0.9"/>
<circle cx="414.95" cy="367.90" r="3.35" fill="#000000" stroke="#000" stroke-width="0.9"/>
<circle cx="464.85" cy="384.90" r="3.35" fill="#000000" stroke="#000" stroke-width="0.9"/>
<circle cx="514.75" cy="378.60" r="3.35" fill="#000000" stroke="#000" stroke-width="0.9"/>
<polyline points="365.05,365.30 414.95,365.30 464.85,371.10 514.75,388.00" fill="none" stroke="#000000" stroke-width="1.55" stroke-linejoin="round" stroke-linecap="butt"/>
<circle cx="365.05" cy="365.30" r="3.35" fill="#000000" stroke="#000" stroke-width="0.9"/>
<circle cx="414.95" cy="365.30" r="3.35" fill="#000000" stroke="#000" stroke-width="0.9"/>
<circle cx="464.85" cy="371.10" r="3.35" fill="#000000" stroke="#000" stroke-width="0.9"/>
<circle cx="514.75" cy="388.00" r="3.35" fill="#000000" stroke="#000" stroke-width="0.9"/>
<polyline points="365.05,378.30 414.95,378.60 464.85,380.90 514.75,378.60" fill="none" stroke="#000000" stroke-width="1.55" stroke-linejoin="round" stroke-linecap="butt"/>
<circle cx="365.05" cy="378.30" r="3.35" fill="#000000" stroke="#000" stroke-width="0.9"/>
<circle cx="414.95" cy="378.60" r="3.35" fill="#000000" stroke="#000" stroke-width="0.9"/>
<circle cx="464.85" cy="380.90" r="3.35" fill="#000000" stroke="#000" stroke-width="0.9"/>
<circle cx="514.75" cy="378.60" r="3.35" fill="#000000" stroke="#000" stroke-width="0.9"/>
<polyline points="365.05,414.60 414.95,405.30 464.85,407.40 514.75,406.70" fill="none" stroke="#ff0000" stroke-width="1.55" stroke-linejoin="round" stroke-linecap="butt"/>
<rect x="361.70" y="411.25" width="6.70" height="6.70" fill="#ff0000" stroke="#000" stroke-width="0.9"/>
<rect x="411.60" y="401.95" width="6.70" height="6.70" fill="#ff0000" stroke="#000" stroke-width="0.9"/>
<rect x="461.50" y="404.05" width="6.70" height="6.70" fill="#ff0000" stroke="#000" stroke-width="0.9"/>
<rect x="511.40" y="403.35" width="6.70" height="6.70" fill="#ff0000" stroke="#000" stroke-width="0.9"/>
<polyline points="365.05,395.00 414.95,405.30 464.85,386.50 514.75,400.50" fill="none" stroke="#0000ff" stroke-width="1.55" stroke-linejoin="round" stroke-linecap="butt"/>
<polygon points="365.05,391.42 361.47,398.58 368.63,398.58" fill="#0000ff" stroke="#000" stroke-width="0.9" stroke-linejoin="miter"/>
<polygon points="414.95,401.72 411.37,408.88 418.53,408.88" fill="#0000ff" stroke="#000" stroke-width="0.9" stroke-linejoin="miter"/>
<polygon points="464.85,382.92 461.27,390.08 468.43,390.08" fill="#0000ff" stroke="#000" stroke-width="0.9" stroke-linejoin="miter"/>
<polygon points="514.75,396.92 511.17,404.08 518.33,404.08" fill="#0000ff" stroke="#000" stroke-width="0.9" stroke-linejoin="miter"/>
<polyline points="365.05,400.50 414.95,397.70 464.85,397.90 514.75,399.40" fill="none" stroke="#0000ff" stroke-width="1.55" stroke-linejoin="round" stroke-linecap="butt"/>
<polygon points="365.05,396.92 361.47,404.08 368.63,404.08" fill="#0000ff" stroke="#000" stroke-width="0.9" stroke-linejoin="miter"/>
<polygon points="414.95,394.12 411.37,401.28 418.53,401.28" fill="#0000ff" stroke="#000" stroke-width="0.9" stroke-linejoin="miter"/>
<polygon points="464.85,394.32 461.27,401.48 468.43,401.48" fill="#0000ff" stroke="#000" stroke-width="0.9" stroke-linejoin="miter"/>
<polygon points="514.75,395.82 511.17,402.98 518.33,402.98" fill="#0000ff" stroke="#000" stroke-width="0.9" stroke-linejoin="miter"/>
<polyline points="365.05,405.20 414.95,397.70 464.85,389.30 514.75,412.20" fill="none" stroke="#0000ff" stroke-width="1.55" stroke-linejoin="round" stroke-linecap="butt"/>
<polygon points="365.05,401.62 361.47,408.78 368.63,408.78" fill="#0000ff" stroke="#000" stroke-width="0.9" stroke-linejoin="miter"/>
<polygon points="414.95,394.12 411.37,401.28 418.53,401.28" fill="#0000ff" stroke="#000" stroke-width="0.9" stroke-linejoin="miter"/>
<polygon points="464.85,385.72 461.27,392.88 468.43,392.88" fill="#0000ff" stroke="#000" stroke-width="0.9" stroke-linejoin="miter"/>
<polygon points="514.75,408.62 511.17,415.78 518.33,415.78" fill="#0000ff" stroke="#000" stroke-width="0.9" stroke-linejoin="miter"/>
<polyline points="365.05,431.00 414.95,408.10 464.85,386.50 514.75,431.40" fill="none" stroke="#0000ff" stroke-width="1.55" stroke-linejoin="round" stroke-linecap="butt"/>
<polygon points="365.05,427.42 361.47,434.58 368.63,434.58" fill="#0000ff" stroke="#000" stroke-width="0.9" stroke-linejoin="miter"/>
<polygon points="414.95,404.52 411.37,411.68 418.53,411.68" fill="#0000ff" stroke="#000" stroke-width="0.9" stroke-linejoin="miter"/>
<polygon points="464.85,382.92 461.27,390.08 468.43,390.08" fill="#0000ff" stroke="#000" stroke-width="0.9" stroke-linejoin="miter"/>
<polygon points="514.75,427.82 511.17,434.98 518.33,434.98" fill="#0000ff" stroke="#000" stroke-width="0.9" stroke-linejoin="miter"/>
<polyline points="365.05,404.40 414.95,423.10 464.85,398.40 514.75,391.90" fill="none" stroke="#008000" stroke-width="1.55" stroke-linejoin="round" stroke-linecap="butt"/>
<polygon points="365.05,407.98 361.47,400.82 368.63,400.82" fill="#008000" stroke="#000" stroke-width="0.9" stroke-linejoin="miter"/>
<polygon points="414.95,426.68 411.37,419.52 418.53,419.52" fill="#008000" stroke="#000" stroke-width="0.9" stroke-linejoin="miter"/>
<polygon points="464.85,401.98 461.27,394.82 468.43,394.82" fill="#008000" stroke="#000" stroke-width="0.9" stroke-linejoin="miter"/>
<polygon points="514.75,395.48 511.17,388.32 518.33,388.32" fill="#008000" stroke="#000" stroke-width="0.9" stroke-linejoin="miter"/>
<polyline points="365.05,440.40 414.95,430.40 464.85,401.10 514.75,395.80" fill="none" stroke="#008000" stroke-width="1.55" stroke-linejoin="round" stroke-linecap="butt"/>
<polygon points="365.05,443.98 361.47,436.82 368.63,436.82" fill="#008000" stroke="#000" stroke-width="0.9" stroke-linejoin="miter"/>
<polygon points="414.95,433.98 411.37,426.82 418.53,426.82" fill="#008000" stroke="#000" stroke-width="0.9" stroke-linejoin="miter"/>
<polygon points="464.85,404.68 461.27,397.52 468.43,397.52" fill="#008000" stroke="#000" stroke-width="0.9" stroke-linejoin="miter"/>
<polygon points="514.75,399.38 511.17,392.22 518.33,392.22" fill="#008000" stroke="#000" stroke-width="0.9" stroke-linejoin="miter"/>
</g>
<rect x="340.1" y="251.1" width="199.60" height="167.30" fill="none" stroke="#000" stroke-width="1.25"/>
<line x1="337.10" y1="418.40" x2="340.1" y2="418.40" stroke="#000" stroke-width="1.1"/>
<text x="333.60" y="426.00" text-anchor="end" style="font-family:'Liberation Serif',serif;font-size:19px" textLength="26.0" lengthAdjust="spacingAndGlyphs">0.5</text>
<line x1="337.10" y1="384.94" x2="340.1" y2="384.94" stroke="#000" stroke-width="1.1"/>
<text x="333.60" y="392.54" text-anchor="end" style="font-family:'Liberation Serif',serif;font-size:19px" textLength="26.0" lengthAdjust="spacingAndGlyphs">0.6</text>
<line x1="337.10" y1="351.48" x2="340.1" y2="351.48" stroke="#000" stroke-width="1.1"/>
<text x="333.60" y="359.08" text-anchor="end" style="font-family:'Liberation Serif',serif;font-size:19px" textLength="26.0" lengthAdjust="spacingAndGlyphs">0.7</text>
<line x1="337.10" y1="318.02" x2="340.1" y2="318.02" stroke="#000" stroke-width="1.1"/>
<text x="333.60" y="325.62" text-anchor="end" style="font-family:'Liberation Serif',serif;font-size:19px" textLength="26.0" lengthAdjust="spacingAndGlyphs">0.8</text>
<line x1="337.10" y1="284.56" x2="340.1" y2="284.56" stroke="#000" stroke-width="1.1"/>
<text x="333.60" y="292.16" text-anchor="end" style="font-family:'Liberation Serif',serif;font-size:19px" textLength="26.0" lengthAdjust="spacingAndGlyphs">0.9</text>
<line x1="337.10" y1="251.10" x2="340.1" y2="251.10" stroke="#000" stroke-width="1.1"/>
<text x="333.60" y="258.70" text-anchor="end" style="font-family:'Liberation Serif',serif;font-size:19px" textLength="26.0" lengthAdjust="spacingAndGlyphs">1.0</text>
<line x1="365.05" y1="418.4" x2="365.05" y2="421.40" stroke="#000" stroke-width="1.1"/>
<text x="357.45" y="436.90" style="font-family:'Liberation Serif',serif;font-size:19px">2</text>
<text x="367.25" y="431.30" style="font-family:'Liberation Serif',serif;font-size:13px">1</text>
<line x1="414.95" y1="418.4" x2="414.95" y2="421.40" stroke="#000" stroke-width="1.1"/>
<text x="407.35" y="436.90" style="font-family:'Liberation Serif',serif;font-size:19px">2</text>
<text x="417.15" y="431.30" style="font-family:'Liberation Serif',serif;font-size:13px">2</text>
<line x1="464.85" y1="418.4" x2="464.85" y2="421.40" stroke="#000" stroke-width="1.1"/>
<text x="457.25" y="436.90" style="font-family:'Liberation Serif',serif;font-size:19px">2</text>
<text x="467.05" y="431.30" style="font-family:'Liberation Serif',serif;font-size:13px">3</text>
<line x1="514.75" y1="418.4" x2="514.75" y2="421.40" stroke="#000" stroke-width="1.1"/>
<text x="507.15" y="436.90" style="font-family:'Liberation Serif',serif;font-size:19px">2</text>
<text x="516.95" y="431.30" style="font-family:'Liberation Serif',serif;font-size:13px">4</text>
<text transform="translate(302.10,335.90) rotate(-90)" text-anchor="middle" style="font-family:'Liberation Serif',serif;font-size:18.5px" textLength="150.9" lengthAdjust="spacingAndGlyphs">ResNet-DTP-MAX</text>
<text x="376.40" y="458.2" style="font-family:'Liberation Serif',serif;font-size:18.5px" textLength="100.5" lengthAdjust="spacingAndGlyphs"># Segments</text>
<text x="483.50" y="458.2" style="font-family:'Liberation Serif',serif;font-size:18.5px">(</text>
<text x="489.50" y="458.0" style="font-family:'Liberation Sans',sans-serif;font-size:16.5px;font-style:italic">L</text>
<text x="498.50" y="458.2" style="font-family:'Liberation Serif',serif;font-size:18.5px">)</text>
<rect x="37.3" y="12.4" width="503" height="21.6" fill="#fff" stroke="#d9d9d9" stroke-width="1"/>
<line x1="41.8" y1="22.4" x2="67.0" y2="22.4" stroke="#000000" stroke-width="1.5"/>
<circle cx="54.60" cy="22.40" r="2.95" fill="#000000" stroke="#000" stroke-width="0.9"/>
<text x="76.4" y="26.9" style="font-family:'Liberation Serif',serif;font-size:13.6px" textLength="42" lengthAdjust="spacingAndGlyphs">Best at</text>
<text x="120.7" y="26.9" style="font-family:'Liberation Sans',sans-serif;font-size:13.2px;font-style:italic">L</text>
<text x="129.6" y="26.9" style="font-family:'Liberation Sans',sans-serif;font-size:12.5px" textLength="17.1" lengthAdjust="spacingAndGlyphs">=2</text>
<line x1="168.7" y1="22.4" x2="193.89999999999998" y2="22.4" stroke="#ff0000" stroke-width="1.5"/>
<rect x="178.55" y="19.45" width="5.90" height="5.90" fill="#ff0000" stroke="#000" stroke-width="0.9"/>
<text x="203.20000000000002" y="26.9" style="font-family:'Liberation Serif',serif;font-size:13.6px" textLength="42" lengthAdjust="spacingAndGlyphs">Best at</text>
<text x="247.5" y="26.9" style="font-family:'Liberation Sans',sans-serif;font-size:13.2px;font-style:italic">L</text>
<text x="256.40000000000003" y="26.9" style="font-family:'Liberation Sans',sans-serif;font-size:12.5px" textLength="17.1" lengthAdjust="spacingAndGlyphs">=4</text>
<line x1="296.4" y1="22.4" x2="321.59999999999997" y2="22.4" stroke="#0000ff" stroke-width="1.5"/>
<polygon points="309.20,19.24 306.04,25.56 312.36,25.56" fill="#0000ff" stroke="#000" stroke-width="0.9" stroke-linejoin="miter"/>
<text x="330.79999999999995" y="26.9" style="font-family:'Liberation Serif',serif;font-size:13.6px" textLength="42" lengthAdjust="spacingAndGlyphs">Best at</text>
<text x="375.09999999999997" y="26.9" style="font-family:'Liberation Sans',sans-serif;font-size:13.2px;font-style:italic">L</text>
<text x="384.0" y="26.9" style="font-family:'Liberation Sans',sans-serif;font-size:12.5px" textLength="17.1" lengthAdjust="spacingAndGlyphs">=8</text>
<line x1="423.9" y1="22.4" x2="449.09999999999997" y2="22.4" stroke="#008000" stroke-width="1.5"/>
<polygon points="436.70,25.56 433.54,19.24 439.86,19.24" fill="#008000" stroke="#000" stroke-width="0.9" stroke-linejoin="miter"/>
<text x="458.09999999999997" y="26.9" style="font-family:'Liberation Serif',serif;font-size:13.6px" textLength="42" lengthAdjust="spacingAndGlyphs">Best at</text>
<text x="502.4" y="26.9" style="font-family:'Liberation Sans',sans-serif;font-size:13.2px;font-style:italic">L</text>
<text x="511.3" y="26.9" style="font-family:'Liberation Sans',sans-serif;font-size:12.5px" textLength="25.7" lengthAdjust="spacingAndGlyphs">=16</text>
</svg>
</body></html>
